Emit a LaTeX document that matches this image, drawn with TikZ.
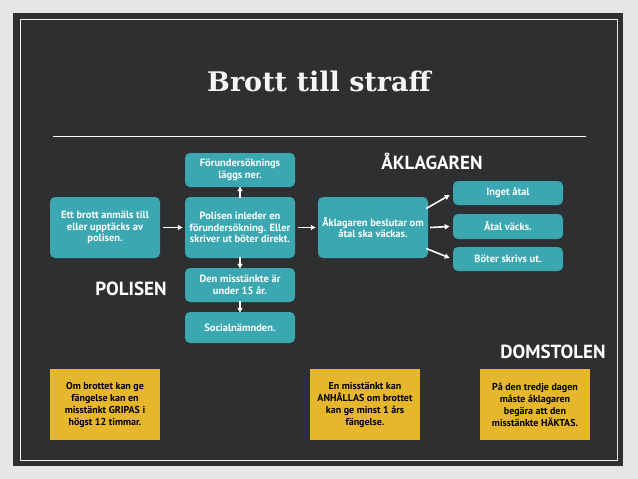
\documentclass[tikz,border=0pt]{standalone}
\usepackage{fontspec}
\setmainfont{PT Sans}
\newfontfamily\titlefont{DejaVu Serif}
\begin{document}
\begin{tikzpicture}[x=1pt,y=-1pt,
 tb/.style={fill=teal1,rounded corners=5pt,text=white,font=\bfseries\fontsize{10.5}{11.5}\selectfont,align=center,inner sep=1pt},
 yb/.style={fill=yel,text=black,font=\bfseries\fontsize{10}{12}\selectfont,align=center,inner sep=1pt,minimum width=110pt,minimum height=71pt},
 ar/.style={white,line width=1.6pt,-{Latex[length=5pt,width=6pt]}},
 lab/.style={text=white,font=\bfseries\fontsize{19}{21}\selectfont}]
\usetikzlibrary{arrows.meta}
\definecolor{teal1}{HTML}{3AA7B1}
\definecolor{yel}{HTML}{E6B62C}
\definecolor{bgd}{HTML}{2E2F31}
\definecolor{pap}{HTML}{E6E6E6}
\fill[pap] (0,0) rectangle (638,479);
\fill[bgd] (13,13) rectangle (623,466);
\draw[white!85!gray,line width=0.8pt] (20,19) rectangle (617,460);
\node[text=white!92!gray,font=\titlefont\bfseries\fontsize{27}{30}\selectfont] (title) at (319,81) {Brott till straff};
\coordinate (l1) at (53,136); \coordinate (l2) at (586,136);
\draw[white,line width=1pt] (l1) -- (l2);
\node[tb,minimum width=110pt,minimum height=61pt] (a) at (105,227.5) {Ett brott anmäls till\\eller upptäcks av\\polisen.};
\node[tb,minimum width=110pt,minimum height=34pt] (f) at (240,170) {Förundersöknings\\läggs ner.};
\node[tb,minimum width=110pt,minimum height=61pt] (p) at (240,227.5) {Polisen inleder en\\förundersökning. Eller\\skriver ut  böter direkt.};
\node[tb,minimum width=110pt,minimum height=34pt] (d) at (240,285) {Den misstänkte är\\under 15  år.};
\node[tb,minimum width=110pt,minimum height=31pt] (s) at (240,327.5) {Socialnämnden.};
\node[tb,minimum width=110pt,minimum height=61pt] (k) at (373,227.5) {Åklagaren beslutar om\\åtal ska väckas.};
\node[tb,minimum width=110pt,minimum height=24pt] (i) at (508,193) {Inget åtal};
\node[tb,minimum width=110pt,minimum height=25pt] (v) at (508,226.5) {Åtal väcks.};
\node[tb,minimum width=110pt,minimum height=24pt] (b) at (508,259) {Böter skrivs ut.};
\node[lab] (pl) at (131,289) {POLISEN};
\node[lab] (al) at (432,161) {ÅKLAGAREN};
\node[lab] (dl) at (553,352) {DOMSTOLEN};
\node[yb] (y1) at (105,404.5) {Om brottet kan ge\\fängelse kan en\\misstänkt GRIPAS i\\högst 12 timmar.};
\node[yb] (y2) at (365,404.5) {En misstänkt kan\\ANHÅLLAS om brottet\\kan ge minst 1 års\\fängelse.};
\node[yb] (y3) at (535,404.5) {På den tredje dagen\\måste åklagaren\\begära att den\\misstänkte HÄKTAS.};
\draw[ar] ([xshift=3pt]a.east) -- ([xshift=-2pt]p.west);
\draw[ar] ([xshift=3pt]p.east) -- ([xshift=-2pt]k.west);
\draw[ar] ([yshift=-1pt]p.north) -- ([yshift=1pt]f.south);
\draw[ar] ([yshift=1pt]p.south) -- ([yshift=-1pt]d.north);
\draw[ar] ([yshift=1pt]d.south) -- ([yshift=-1pt]s.north);
\draw[ar] ([shift={(-2pt,19pt)}]k.east) -- ([shift={(-3pt,-2pt)}]i.west);
\draw[ar] ([xshift=2pt]k.east) -- ([xshift=-3pt]v.west);
\draw[ar] ([shift={(-2pt,-21pt)}]k.east) -- ([shift={(-3pt,1pt)}]b.west);
\end{tikzpicture}
\end{document}
